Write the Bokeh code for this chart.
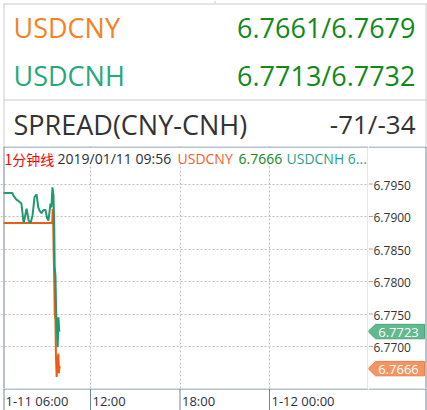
from bokeh.plotting import figure
from bokeh.layouts import column, row
from bokeh.models import Range1d, FixedTicker, Grid
from bokeh.core.properties import value
from bokeh.embed import file_html
from bokeh.resources import INLINE
import pandas as pd

# ---------------- data ----------------
cny_name, cnh_name = "USDCNY", "USDCNH"
cny_bid, cny_ask = 6.7661, 6.7679
cnh_bid, cnh_ask = 6.7713, 6.7732
spread_name = "SPREAD(CNY-CNH)"
spread_text = f"{round((cny_bid - cnh_ask) * 10000)}/{round((cny_ask - cnh_bid) * 10000)}"

day = "2019-01-11 "
cny_times = ["06:10", "09:26", "09:28", "09:30", "09:32", "09:34", "09:36", "09:39",
             "09:41", "09:44", "09:46", "09:48", "09:51", "09:53", "09:55", "09:56"]
cny_values = [6.7890, 6.7890, 6.7912, 6.7890, 6.7840, 6.7807, 6.7753, 6.7740,
              6.7686, 6.7653, 6.7686, 6.7659, 6.7689, 6.7659, 6.7670, 6.7666]

cnh_times = ["06:10", "06:46", "06:50", "07:02", "07:10", "07:22", "07:31", "07:35",
             "07:43", "07:51", "07:59", "08:07", "08:15", "08:23", "08:30", "08:35",
             "08:43", "08:51", "08:59", "09:06", "09:11", "09:19", "09:23", "09:27",
             "09:31", "09:34", "09:36", "09:39", "09:42", "09:45", "09:48", "09:51",
             "09:54", "09:56"]
cnh_values = [6.7936, 6.7936, 6.7932, 6.7926, 6.7924, 6.7920, 6.7890, 6.7897,
              6.7912, 6.7894, 6.7890, 6.7902, 6.7930, 6.7934, 6.7914, 6.7909,
              6.7905, 6.7910, 6.7910, 6.7897, 6.7894, 6.7920, 6.7914, 6.7945,
              6.7933, 6.7890, 6.7822, 6.7810, 6.7751, 6.7725, 6.7699, 6.7745,
              6.7725, 6.7723]

y_ticks = [6.7700, 6.7750, 6.7800, 6.7850, 6.7900, 6.7950]
x_tick_times = ["2019-01-11 12:00", "2019-01-11 18:00", "2019-01-12 00:00"]
x_tick_labels = ["1-11 06:00", "12:00", "18:00", "1-12 00:00"]
header_period = "1分钟线"
header_time = "2019/01/11 09:56"
x_start, x_end = "2019-01-11 05:58:00", "2019-01-12 06:38:12"
y_start, y_end = 6.76354, 6.80077

# ---------------- styles ----------------
W = 427
TH = 146            # quote table height
AW, AH = 368, 242   # chart area
BW = W - AW         # price axis column
CH = 410 - TH - AH  # time label row
GRAY = "#cccccc"
SLATE = "#6e8799"
ORANGE = "#f5821f"
TEAL = "#27a97a"
GREEN = "#118a1a"
DARK = "#333333"
NAVY = "#2a2f3e"
LINE_CNY = "#f05a14"
LINE_CNH = "#1f9a6c"


def ts(s):
    return pd.Timestamp(s)


def bare(width, height, x_range, y_range):
    f = figure(width=width, height=height, x_range=x_range, y_range=y_range,
               toolbar_location=None, output_backend="svg", min_border=0,
               x_axis_location=None, y_axis_location=None)
    f.grid.visible = False
    f.outline_line_color = None
    return f


# ---------------- quote table ----------------
top = bare(W, TH, Range1d(0, W), Range1d(TH, 0))
top.segment(x0=[3, 3.5, 425.5, 3, 214.5], y0=[3.5, 3, 3, 99.5, 0],
            x1=[426, 3.5, 425.5, 426, 214.5], y1=[3.5, TH, TH, 99.5, 3],
            line_color=GRAY, line_width=1)
rows_y = [27, 75, 123.5]
top.text(x=[13, 13], y=rows_y[:2], text=[cny_name, cnh_name],
         text_color=[ORANGE, TEAL], text_font=value("Open Sans"),
         text_font_size="27px", text_baseline="middle", text_align="left")
top.text(x=[13], y=[rows_y[2]], text=[spread_name], text_color=DARK,
         text_font=value("Open Sans"), text_font_size="27px",
         text_baseline="middle", text_align="left")
top.text(x=[415, 415], y=rows_y[:2],
         text=[f"{cny_bid:.4f}/{cny_ask:.4f}", f"{cnh_bid:.4f}/{cnh_ask:.4f}"],
         text_color=GREEN, text_font=value("Open Sans"), text_font_size="27px",
         text_baseline="middle", text_align="right")
top.text(x=[415], y=[rows_y[2]], text=[spread_text], text_color=DARK,
         text_font=value("Open Sans"), text_font_size="26px",
         text_baseline="middle", text_align="right")

# ---------------- chart area ----------------
xr = Range1d(ts(x_start), ts(x_end))
yr = Range1d(y_start, y_end)
A = bare(AW, AH, xr, yr)
A.extra_x_ranges = {"px": Range1d(0, AW)}
A.extra_y_ranges = {"py": Range1d(AH, 0)}

xt = [ts(t) for t in x_tick_times]
for dim, ticks in ((0, [t.value // 10**6 for t in xt]), (1, y_ticks)):
    A.add_layout(Grid(dimension=dim, ticker=FixedTicker(ticks=ticks),
                      grid_line_color="#c0c0c0", grid_line_dash="2 2"))

A.line([ts(day + t) for t in cny_times], cny_values, line_color=LINE_CNY, line_width=2)
A.line([ts(day + t) for t in cnh_times], cnh_values, line_color=LINE_CNH, line_width=2)

# header strip
A.quad(left=[4], right=[367], top=[1], bottom=[16], fill_color="white",
       line_color=None, x_range_name="px", y_range_name="py")
hy = 12
header = [
    (4, header_period, "#ff0000", "Noto Sans CJK SC"),
    (57, header_time, NAVY, "Open Sans"),
    (177, cny_name, "#f0602a", "Open Sans"),
    (238, f"{cny_values[-1]:.4f}", GREEN, "Open Sans"),
    (286, f"{cnh_name} {cnh_values[-1]:.4f}"[:8] + "...", "#1fa08a", "Open Sans"),
]
for hx, txt, col, font in header:
    A.text(x=[hx], y=[hy], text=[txt], text_color=col, text_font=value(font),
           text_font_size="14px", text_baseline="middle", text_align="left",
           x_range_name="px", y_range_name="py")

# borders of the chart area
A.segment(x0=[3.5, 3], y0=[0, 0.5], x1=[3.5, AW], y1=[AH, 0.5],
          line_color=SLATE, line_width=1, x_range_name="px", y_range_name="py")
A.segment(x0=[AW - 0.5], y0=[1], x1=[AW - 0.5], y1=[AH],
          line_color=GRAY, line_width=1, x_range_name="px", y_range_name="py")

# ---------------- price axis column ----------------
B = bare(BW, AH, Range1d(0, BW), yr)
B.extra_y_ranges = {"py": Range1d(AH, 0)}
B.segment(x0=[0] * len(y_ticks), x1=[4.5] * len(y_ticks), y0=y_ticks, y1=y_ticks,
          line_color="#aaaaaa", line_width=1)
B.text(x=[5] * len(y_ticks), y=y_ticks, y_offset=1, text=[f"{v:.4f}" for v in y_ticks],
       text_color=DARK, text_font=value("Open Sans"), text_font_size="12px",
       text_baseline="middle", text_align="left")
px_per_unit = AH / (y_end - y_start)
h = 7.2 / px_per_unit
for val, fill, edge in [(cnh_values[-1], "#62b88f", "#4aa67a"),
                        (cny_values[-1], "#f39563", "#e8804a")]:
    B.patch(x=[-0.5, 7, 56, 56, 7], y=[val, val + h, val + h, val - h, val - h],
            fill_color=fill, line_color=edge, line_width=1)
    B.text(x=[30], y=[val], y_offset=1, text=[f"{val:.4f}"], text_color="white",
           text_font=value("Open Sans"), text_font_size="13px",
           text_baseline="middle", text_align="center")
B.segment(x0=[0, 57.5], y0=[0.5, 0], x1=[58, 57.5], y1=[0.5, AH],
          line_color=SLATE, line_width=1, y_range_name="py")

# ---------------- time label row ----------------
C = bare(AW, CH, xr, Range1d(CH, 0))
C.extra_x_ranges = {"px": Range1d(0, AW)}
C.segment(x0=xt, x1=xt, y0=[0] * 3, y1=[CH] * 3, line_color=SLATE, line_width=1)
C.segment(x0=[3.5, 3], x1=[3.5, AW], y0=[0, 0.5], y1=[CH, 0.5], line_color=SLATE,
          line_width=1, x_range_name="px")
label_x = [ts(day + cny_times[0])] + xt
C.text(x=label_x, y=[12] * 4, text=x_tick_labels, x_offset=2, text_color=NAVY,
       text_font=value("Open Sans"), text_font_size="13px",
       text_baseline="middle", text_align="left")

D = bare(BW, CH, Range1d(0, BW), Range1d(CH, 0))
D.segment(x0=[57.5, 0], x1=[57.5, 58], y0=[0, 0.5], y1=[CH, 0.5],
          line_color=SLATE, line_width=1)

layout = column(top, row(A, B, spacing=0), row(C, D, spacing=0), spacing=0)
open("out.html", "w").write(file_html(layout, INLINE))
